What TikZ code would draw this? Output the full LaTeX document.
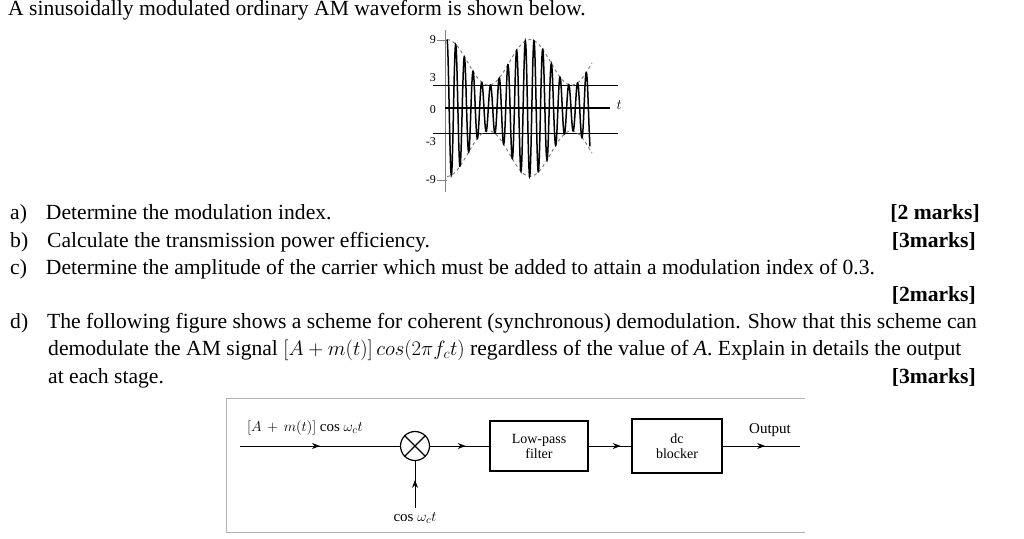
\documentclass[tikz,border=0pt]{standalone}
\usepackage{fontspec}
\setmainfont{Liberation Serif}
\usetikzlibrary{decorations.markings,arrows.meta}
\begin{document}
\begin{tikzpicture}[x=1pt,y=-1pt,
  txt/.style={anchor=base west,inner sep=0pt,font=\fontsize{21.6}{24}\selectfont},
  mk/.style={anchor=base east,inner sep=0pt,font=\fontsize{21.6}{24}\selectfont\bfseries},
  tick/.style={anchor=east,inner sep=1pt,font=\fontsize{12}{13}\selectfont},
  blk/.style={draw,line width=1.2pt,inner sep=0pt,align=center,font=\fontsize{14}{15}\selectfont},
  midarrow/.style={decoration={markings,mark=at position #1 with {\arrow{Stealth[length=8pt,width=6pt]}}},postaction={decorate}},
  flow/.style={line width=1pt}]
\useasboundingbox (0,0) rectangle (1024,538);
% header
\node[txt] (title) at (8,15) {A sinusoidally modulated ordinary AM waveform is shown below.};
% waveform
\begin{scope}
\draw[gray,line width=0.6pt] (445,30) -- (445,192);
\foreach \v/\y/\l in {9/40/9,3/78/3,0/110/0,-3/142/-3,-9/180/-9}{
  \node[tick] at (437,\y) {\l};}
\draw[gray] (437,40)--(447,40) (437,180)--(447,180);
\draw[line width=0.8pt] (433,85) -- (618,85);
\draw[line width=0.8pt] (433,133) -- (618,133);
\draw[line width=1.6pt] (445,108) -- (610,108);
\node[anchor=west,font=\itshape\fontsize{14}{15}\selectfont] (t) at (613,105) {$t$};
\draw[gray,dashed,line width=1pt,domain=447:592,samples=80]
  plot (\x,{108-7.6*(6+3*cos((\x-447)*4.337))});
\draw[gray,dashed,line width=1pt,domain=447:592,samples=80]
  plot (\x,{108+7.6*(6+3*cos((\x-447)*4.337))});
\draw[black,line width=1.5pt,domain=447:590,samples=600]
  plot (\x,{108-7.6*(6+3*cos((\x-447)*4.337))*cos((\x-447)*41.38)});
\end{scope}
% questions
\node[txt] (qa) at (10,219) {a)\hspace{19pt}Determine the modulation index.};
\node[mk] (ma) at (980,219) {[2 marks]};
\node[txt] (qb) at (10,247) {b)\hspace{19pt}Calculate the transmission power efficiency.};
\node[mk] (mb) at (976,247) {[3marks]};
\node[txt] (qc) at (10,274) {c)\hspace{19pt}Determine the amplitude of the carrier which must be added to attain a modulation index of 0.3.};
\node[mk] (mc) at (976,301) {[2marks]};
\node[txt] (qd) at (10,328) {d)\hspace{19pt}The following figure shows a scheme for coherent (synchronous) demodulation. Show that this scheme can};
\node[txt] (qd2) at (48,355) {demodulate the AM signal $[A+m(t)]\,cos(2\pi f_ct)$ regardless of the value of \textit{A}. Explain in details the output};
\node[txt] (qd3) at (48,383) {at each stage.};
\node[mk] (md) at (976,383) {[3marks]};
% block diagram frame
\draw[gray!60,line width=0.8pt] (805,398) -- (226,398) -- (226,532) -- (805,532);
\coordinate (in) at (240,446);
\node[draw,circle,line width=1.2pt,minimum size=29pt,inner sep=0pt] (mix) at (415,446) {};
\draw[line width=1.2pt] (mix.north west) -- (mix.south east) (mix.north east) -- (mix.south west);
\node[blk,minimum width=98pt,minimum height=50pt] (lpf) at (539,446) {Low-pass\\filter};
\node[blk,minimum width=90pt,minimum height=54pt] (dcb) at (677,446) {dc\\blocker};
\coordinate (out) at (800,446);
\coordinate (lo) at (415,508);
\draw[flow,midarrow=0.5] (in) -- (mix);
\draw[flow,midarrow=0.6] (mix) -- (lpf);
\draw[flow,midarrow=0.75] (lpf) -- (dcb);
\draw[flow,midarrow=0.55] (dcb) -- (out);
\draw[flow,midarrow=0.6] (lo) -- (mix);
\node[font=\fontsize{15}{16}\selectfont] (inl) at (305,428) {$[A\,+\,m(t)]$ cos $\omega_c t$};
\node[font=\fontsize{15}{16}\selectfont] (lol) at (415,518) {cos $\omega_c t$};
\node[font=\fontsize{15}{16}\selectfont] (outl) at (770,430) {Output};
\end{tikzpicture}
\end{document}
